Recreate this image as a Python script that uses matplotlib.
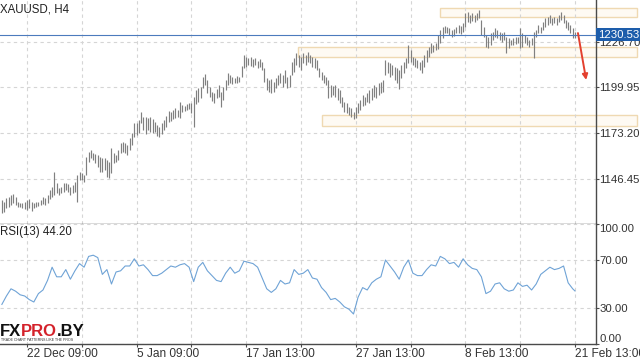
import matplotlib
matplotlib.use('Agg')
import matplotlib.pyplot as plt
from matplotlib.patches import Rectangle
from matplotlib.transforms import blended_transform_factory

plt.rcParams['font.family'] = ['Liberation Sans', 'DejaVu Sans']

# H4 bars, high / low per bar
bar_high = [
    1133.9, 1132.7, 1135.1, 1135.6, 1136.8, 1137.4, 1135.6, 1132.7, 1132.1, 1132.1,
    1132.7, 1133.9, 1134.5, 1132.7, 1132.1, 1132.7, 1132.7, 1133.9, 1135.6, 1135.1,
    1136.8, 1139.7, 1141.5, 1150.3, 1143.8, 1140.9, 1141.5, 1143.8, 1143.8, 1143.3,
    1141.5, 1142.7, 1144.4, 1148.5, 1150.3, 1149.7, 1148.5, 1159.1, 1162.0, 1163.2,
    1161.4, 1160.9, 1160.3, 1159.1, 1158.5, 1158.5, 1157.3, 1156.2, 1164.4, 1161.4,
    1160.3, 1163.2, 1167.3, 1167.9, 1167.3, 1166.1, 1170.2, 1173.2, 1179.0, 1179.0,
    1180.8, 1185.5, 1182.6, 1182.6, 1182.0, 1182.6, 1181.4, 1179.6, 1177.9, 1176.7,
    1179.0, 1180.8, 1183.2, 1186.1, 1185.5, 1186.7, 1187.8, 1186.7, 1191.4, 1189.6,
    1189.0, 1190.2, 1190.8, 1190.8, 1194.3, 1198.4, 1199.6, 1200.2, 1206.0, 1207.8,
    1204.3, 1200.2, 1197.2, 1196.6, 1199.0, 1201.3, 1197.2, 1200.2, 1204.3, 1208.4,
    1207.2, 1206.0, 1205.4, 1206.6, 1206.0, 1212.5, 1218.9, 1217.8, 1217.2, 1217.8,
    1216.6, 1217.2, 1215.4, 1216.6, 1214.8, 1211.3, 1205.4, 1204.3, 1204.9, 1203.1,
    1205.4, 1207.2, 1208.4, 1207.2, 1210.1, 1206.0, 1207.2, 1214.8, 1217.2, 1220.1,
    1218.9, 1217.8, 1220.1, 1218.9, 1220.7, 1218.9, 1217.8, 1217.2, 1216.0, 1211.3,
    1209.0, 1207.2, 1206.0, 1204.3, 1201.3, 1200.8, 1201.3, 1199.6, 1198.4, 1194.3,
    1191.4, 1190.8, 1188.4, 1187.8, 1185.5, 1188.4, 1190.8, 1192.5, 1195.5, 1194.3,
    1196.6, 1198.4, 1199.6, 1201.3, 1200.2, 1202.5, 1203.1, 1204.3, 1216.0, 1214.8,
    1214.2, 1213.1, 1211.9, 1211.3, 1210.1, 1213.1, 1214.8, 1217.2, 1224.8, 1221.9,
    1217.8, 1217.2, 1216.0, 1214.8, 1216.0, 1218.9, 1221.9, 1223.6, 1226.0, 1224.8,
    1226.0, 1230.7, 1233.6, 1235.4, 1235.9, 1235.4, 1234.8, 1233.6, 1234.2, 1235.4,
    1236.5, 1235.9, 1237.7, 1243.6, 1244.2, 1242.4, 1243.6, 1242.4, 1243.6, 1245.3,
    1239.5, 1235.4, 1230.7, 1229.5, 1231.8, 1232.4, 1234.8, 1233.6, 1232.4, 1231.8,
    1232.4, 1229.5, 1228.9, 1227.7, 1228.9, 1229.5, 1229.5, 1234.8, 1231.8, 1230.7,
    1229.5, 1227.7, 1228.9, 1232.4, 1233.6, 1236.5, 1235.4, 1238.3, 1240.6, 1241.2,
    1242.4, 1240.6, 1241.2, 1240.6, 1242.4, 1244.2, 1242.4, 1239.5, 1238.3, 1236.5,
    1234.8, 1232.4,
]
bar_low = [
    1126.3, 1126.8, 1129.2, 1129.8, 1130.9, 1132.1, 1130.9, 1129.8, 1129.8, 1129.2,
    1128.6, 1128.0, 1129.2, 1127.4, 1129.2, 1129.8, 1130.4, 1130.9, 1131.5, 1130.9,
    1132.1, 1134.5, 1135.6, 1136.8, 1138.0, 1136.8, 1138.0, 1138.6, 1139.7, 1138.6,
    1136.8, 1138.0, 1138.6, 1132.7, 1145.6, 1145.6, 1144.4, 1148.5, 1156.2, 1158.5,
    1157.3, 1155.6, 1153.2, 1150.3, 1150.3, 1151.5, 1147.4, 1146.8, 1149.7, 1155.6,
    1156.2, 1157.3, 1161.4, 1162.0, 1161.4, 1160.3, 1163.2, 1166.1, 1170.8, 1172.0,
    1173.2, 1179.0, 1174.9, 1172.6, 1174.9, 1173.8, 1173.2, 1173.8, 1171.4, 1170.8,
    1172.6, 1174.9, 1176.7, 1179.6, 1180.2, 1181.4, 1182.0, 1182.6, 1182.0, 1185.5,
    1186.1, 1186.7, 1187.3, 1184.9, 1176.7, 1190.2, 1191.4, 1193.7, 1199.6, 1201.3,
    1196.6, 1194.3, 1192.0, 1190.8, 1193.7, 1194.3, 1188.4, 1192.5, 1198.4, 1201.3,
    1202.5, 1201.9, 1202.5, 1202.5, 1203.1, 1206.0, 1211.3, 1211.9, 1213.1, 1212.5,
    1211.9, 1213.1, 1211.3, 1211.9, 1210.1, 1203.1, 1198.4, 1197.2, 1196.6, 1197.2,
    1199.6, 1201.3, 1202.5, 1200.2, 1202.5, 1199.6, 1200.2, 1207.2, 1209.0, 1213.1,
    1211.9, 1210.1, 1214.2, 1213.1, 1214.8, 1214.2, 1211.9, 1211.3, 1210.1, 1206.0,
    1204.3, 1202.5, 1201.3, 1193.7, 1194.3, 1195.5, 1194.3, 1192.5, 1190.8, 1188.4,
    1185.5, 1184.9, 1183.7, 1182.6, 1181.4, 1182.0, 1184.9, 1186.7, 1189.0, 1189.6,
    1191.4, 1190.8, 1192.5, 1194.3, 1193.7, 1195.5, 1196.6, 1197.2, 1207.2, 1208.4,
    1206.0, 1207.2, 1204.3, 1202.5, 1199.0, 1205.4, 1208.4, 1211.3, 1214.2, 1214.8,
    1213.1, 1211.9, 1211.3, 1210.1, 1208.4, 1211.9, 1214.8, 1217.8, 1220.1, 1220.7,
    1221.9, 1222.5, 1226.0, 1228.9, 1231.8, 1231.8, 1230.7, 1229.5, 1230.1, 1231.8,
    1231.8, 1231.3, 1232.4, 1235.4, 1238.3, 1237.7, 1238.9, 1238.3, 1239.5, 1240.6,
    1230.7, 1229.5, 1223.6, 1223.0, 1224.8, 1227.7, 1229.5, 1228.9, 1227.7, 1226.6,
    1227.7, 1220.1, 1223.0, 1224.8, 1224.8, 1225.4, 1226.0, 1223.0, 1223.6, 1226.0,
    1224.8, 1223.6, 1224.8, 1217.2, 1229.5, 1231.8, 1231.8, 1233.6, 1235.4, 1236.5,
    1237.7, 1236.5, 1237.7, 1236.5, 1238.3, 1239.5, 1237.7, 1234.8, 1233.6, 1231.8,
    1228.9, 1228.9,
]
last_close = 1230.53

# RSI(13), read every second bar
rsi_bars = list(range(0, 251, 2)) + [251]
rsi_values = [
    33, 40, 46, 44, 41, 40, 37, 35, 42, 45,
    53, 64, 56, 56, 62, 54, 61, 67, 64, 73,
    74, 72, 58, 62, 50, 60, 61, 65, 65, 71,
    65, 66, 62, 57, 57, 59, 62, 65, 64, 66,
    67, 64, 52, 64, 68, 61, 57, 53, 52, 59,
    64, 59, 61, 69, 68, 67, 64, 55, 46, 43,
    46, 53, 50, 51, 62, 58, 59, 62, 55, 54,
    47, 43, 37, 38, 35, 31, 29, 25, 39, 47,
    45, 51, 54, 56, 70, 65, 60, 54, 64, 70,
    59, 57, 57, 62, 66, 65, 73, 71, 67, 68,
    64, 71, 66, 63, 62, 56, 42, 44, 50, 51,
    46, 44, 45, 51, 48, 49, 45, 50, 58, 61,
    64, 62, 63, 65, 51, 46, 44.2,
]

price_ticks = [1146.45, 1173.20, 1199.95, 1226.70]
rsi_ticks = [0, 30, 70, 100]
grid_bars = list(range(11, 252, 24))
date_labels = ['22 Dec 09:00', '', '5 Jan 09:00', '', '17 Jan 13:00', '',
               '27 Jan 13:00', '', '8 Feb 13:00', '', '21 Feb 13:00']

# support / resistance zones: start bar, top, bottom
zone_start = [192, 129.5, 140]
zone_top = [1246.5, 1223.6, 1183.7]
zone_bottom = [1241.2, 1217.8, 1177.3]
zone_end = 278

arrow_from = (252.3, 1231.8)
arrow_to = (255.9, 1204.3)

txt = '#333333'
spine_c = '#4a4a4a'
fs = 8.2
grid_kw = dict(color='#d5d5d5', linestyle=(0, (3, 3)), linewidth=0.8)

fig = plt.figure(figsize=(6.4, 3.6), dpi=100)
ax = fig.add_axes([0, 1 - 224 / 360, 596 / 640, 224 / 360])
ax2 = fig.add_axes([0, 1 - 344 / 360, 596 / 640, 120 / 360], sharex=ax)

bars = list(range(len(bar_high)))
ax.vlines(bars, bar_low, bar_high, color='#808080', linewidth=0.85, zorder=3)
ax.axhline(last_close, color='#4c7bbd', linewidth=0.8, zorder=4)

for s, t, b in zip(zone_start, zone_top, zone_bottom):
    ax.add_patch(Rectangle((s, b), zone_end - s, t - b, facecolor='#fefaf3',
                           edgecolor='#efd9b2', linewidth=1.0, zorder=1, clip_on=False))

ax.annotate('', xy=arrow_to, xytext=arrow_from, annotation_clip=False,
            arrowprops=dict(arrowstyle='-|>', color='#e3402f', lw=1.4,
                            mutation_scale=8, shrinkA=0, shrinkB=0), zorder=6)

ax.set_xlim(-0.82, 260.2)
ax.set_ylim(1119.8, 1251.2)
ax.set_yticks(price_ticks)
ax.set_yticklabels(['%.2f' % v for v in price_ticks])
ax.set_xticks(grid_bars)
ax.tick_params(axis='x', labelbottom=False, length=0)
ax.yaxis.tick_right()
ax.tick_params(axis='y', colors=spine_c, labelcolor=txt, labelsize=fs, length=2, pad=0.5)
ax.grid(True, **grid_kw)
for sp in ['top', 'left']:
    ax.spines[sp].set_visible(False)
for sp in ['right', 'bottom']:
    ax.spines[sp].set_color(spine_c)
    ax.spines[sp].set_linewidth(1.0)

# current price tag
tr = blended_transform_factory(ax.transAxes, ax.transData)
ax.add_patch(Rectangle((1.0, 1227.1), 46 / 596, 7.7, transform=tr, facecolor='#1d5dab',
                       edgecolor='none', clip_on=False, zorder=7))
ax.text(1.0 + 2 / 596, last_close, '%.2f' % last_close, transform=tr, color='white',
        fontsize=fs, va='center', ha='left', zorder=8, clip_on=False)

ax.text(0.0, 1 - 9 / 224, 'XAUUSD, H4', transform=ax.transAxes, fontsize=8.3,
        color='#222222', va='center', ha='left')

# RSI panel
ax2.plot(rsi_bars, rsi_values, color='#6fa3d6', linewidth=0.8, zorder=3)
ax2.set_ylim(0, 100)
ax2.set_yticks(rsi_ticks)
ax2.set_yticklabels(['%.2f' % v for v in rsi_ticks])
ax2.yaxis.tick_right()
ax2.tick_params(axis='y', colors=spine_c, labelcolor=txt, labelsize=fs, length=2, pad=0.5)
ylabs = ax2.get_yticklabels()
ylabs[0].set_va('bottom')
ylabs[-1].set_va('top')
ax2.set_xticks(grid_bars)
ax2.set_xticklabels(date_labels, ha='left')
ax2.tick_params(axis='x', colors=spine_c, labelcolor=txt, labelsize=8.6, length=2, pad=1)
ax2.grid(True, **grid_kw)
for sp in ['top', 'left']:
    ax2.spines[sp].set_visible(False)
for sp in ['right', 'bottom']:
    ax2.spines[sp].set_color(spine_c)
    ax2.spines[sp].set_linewidth(1.0)
ax2.text(0.0, 1 - 8 / 120, 'RSI(13) %.2f' % rsi_values[-1], transform=ax2.transAxes,
         fontsize=8.3, color='#222222', va='center', ha='left')

# watermark logo
fig.patches.append(Rectangle((0, 1 - 342 / 360), 82 / 640, 23 / 360, transform=fig.transFigure,
                             facecolor='white', edgecolor='none', zorder=5))
renderer = fig.canvas.get_renderer()
x0 = 0
for part, col in [('FX', '#111111'), ('PRO', '#d4222b'), ('.BY', '#111111')]:
    t = fig.text(x0, 1 - 336 / 360, part, fontsize=12, fontweight='bold', color=col,
                 va='baseline', ha='left', zorder=6)
    bb = t.get_window_extent(renderer)
    x0 = bb.x1 / fig.bbox.width
fig.text(1 / 640, 1 - 341 / 360, 'TRADE CHART PATTERNS LIKE THE PROS', fontsize=2.6,
         color='#333333', va='baseline', ha='left', zorder=6)

fig.savefig('out.png', dpi=100)
